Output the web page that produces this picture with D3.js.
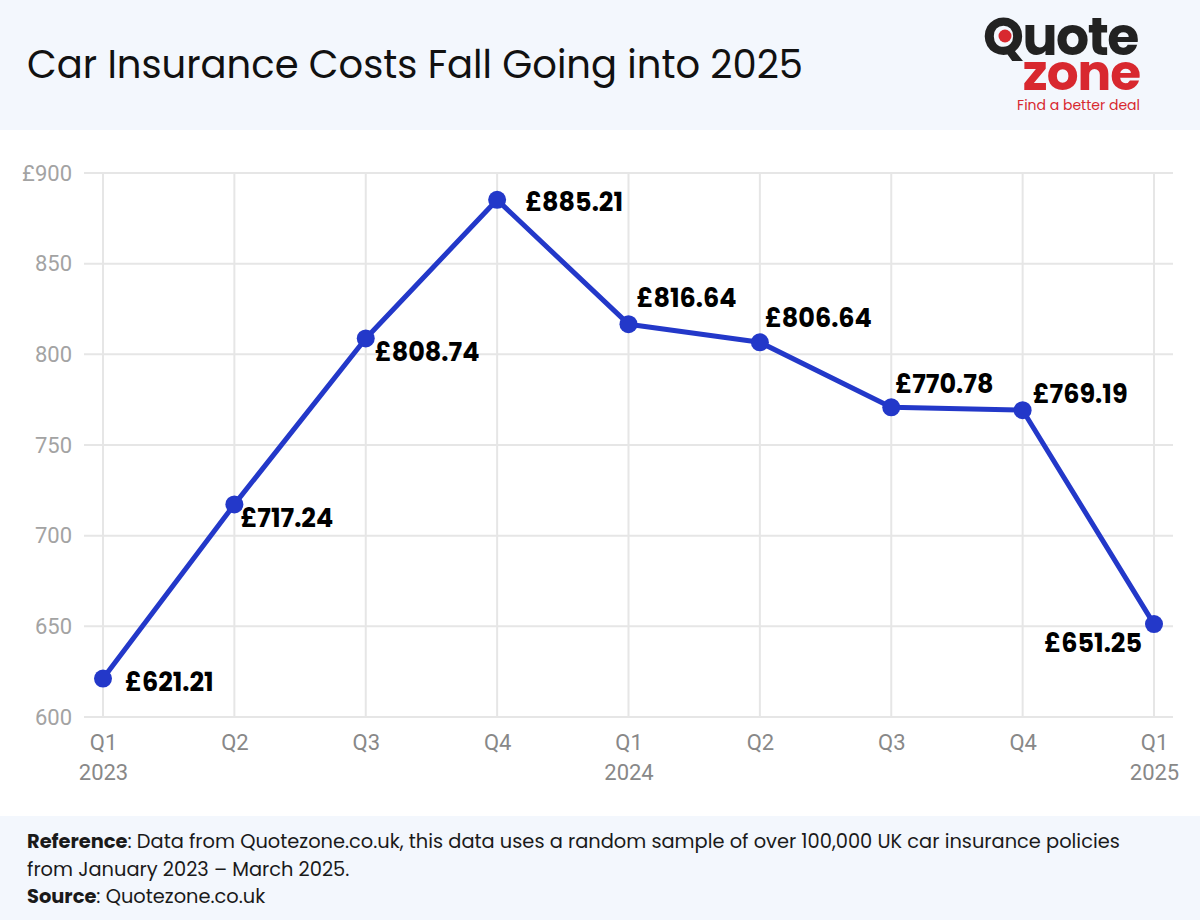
<!DOCTYPE html>
<html>
<head>
<meta charset="utf-8">
<script src="https://cdn.jsdelivr.net/npm/d3@7"></script>
<style>
  body { margin: 0; background: #fff; }
  svg { display: block; }
</style>
</head>
<body>
<svg id="chart" width="1200" height="920"></svg>
<script>
// quarterly average premium
var quarters = ["Q1", "Q2", "Q3", "Q4", "Q1", "Q2", "Q3", "Q4", "Q1"];
var years = ["2023", "", "", "", "2024", "", "", "", "2025"];
var costs = [621.21, 717.24, 808.74, 885.21, 816.64, 806.64, 770.78, 769.19, 651.25];
var yTicks = [600, 650, 700, 750, 800, 850, 900];

// label nudges from each point, picked by hand to dodge the line
var labelNudge = [[22, 12], [6, 23], [9, 23], [28, 11], [8, -17], [5, -15], [4, -14], [10, -7], [-12, 28]];

var svg = d3.select("#chart");
var W = 1200, H = 920;
var bg = "#f3f7fd";
var fontMain = "Poppins, 'Open Sans', sans-serif";
var fontAxis = "Roboto, sans-serif";

// header + footer bands
svg.append("rect").attr("width", W).attr("height", 130).attr("fill", bg);
svg.append("rect").attr("y", 816).attr("width", W).attr("height", H - 816).attr("fill", bg);

svg.append("text")
	.attr("x", 27).attr("y", 78)
	.attr("font-family", fontMain)
	.attr("font-size", 38.5)
	.attr("fill", "#111")
	.text("Car Insurance Costs Fall Going into 2025");

// logo
var logo = svg.append("g").attr("transform", "translate(983,0)");
logo.append("text")
	.attr("x", 0).attr("y", 55)
	.attr("font-family", fontMain)
	.attr("font-weight", 700)
	.attr("font-size", 52)
	.attr("letter-spacing", -1.5)
	.attr("fill", "#222")
	.text("Quote");
logo.append("circle").attr("cx", 22).attr("cy", 36).attr("r", 6.5).attr("fill", "#d8282f");
logo.append("text")
	.attr("x", 157).attr("y", 90)
	.attr("text-anchor", "end")
	.attr("font-family", fontMain)
	.attr("font-weight", 700)
	.attr("font-size", 50)
	.attr("letter-spacing", -1)
	.attr("fill", "#d8282f")
	.text("zone");
logo.append("text")
	.attr("x", 157).attr("y", 110)
	.attr("text-anchor", "end")
	.attr("font-family", fontMain)
	.attr("font-size", 14)
	.attr("fill", "#d8282f")
	.text("Find a better deal");

// plot
var x = d3.scaleLinear().domain([0, quarters.length - 1]).range([103, 1154]);
var y = d3.scaleLinear().domain([600, 900]).range([717, 173]);

var grid = svg.append("g").attr("stroke", "#e6e6e6").attr("stroke-width", 2);
grid.selectAll("line.h")
	.data(yTicks)
	.enter().append("line")
	.attr("x1", 84).attr("x2", 1173)
	.attr("y1", function(d) { return y(d); })
	.attr("y2", function(d) { return y(d); });
grid.selectAll("line.v")
	.data(quarters)
	.enter().append("line")
	.attr("x1", function(d, i) { return x(i); })
	.attr("x2", function(d, i) { return x(i); })
	.attr("y1", y(900)).attr("y2", y(600));

var yAxis = svg.append("g")
	.attr("transform", "translate(72,0)")
	.call(d3.axisLeft(y).tickValues(yTicks).tickSize(0).tickPadding(0)
		.tickFormat(function(d) { return d === 900 ? "£900" : d; }));
yAxis.select(".domain").remove();
yAxis.selectAll("text")
	.attr("font-family", fontAxis)
	.attr("font-size", 22)
	.attr("fill", "#a3a3a3");

var xAxis = svg.append("g")
	.attr("transform", "translate(0,734)")
	.call(d3.axisBottom(x).tickValues(d3.range(quarters.length)).tickSize(0).tickPadding(0)
		.tickFormat(function(i) { return quarters[i]; }));
xAxis.select(".domain").remove();
xAxis.selectAll("text")
	.attr("font-family", fontAxis)
	.attr("font-size", 22)
	.attr("fill", "#888")
	.attr("dy", "0.71em");
xAxis.selectAll(".tick")
	.append("text")
	.attr("y", 30).attr("dy", "0.71em")
	.attr("fill", "#888")
	.attr("font-family", fontAxis)
	.attr("font-size", 22)
	.text(function(i) { return years[i]; });

var line = d3.line()
	.x(function(d, i) { return x(i); })
	.y(function(d) { return y(d); });

svg.append("path")
	.datum(costs)
	.attr("fill", "none")
	.attr("stroke", "#2338c9")
	.attr("stroke-width", 5)
	.attr("stroke-linejoin", "round")
	.attr("d", line);

svg.selectAll("circle.pt")
	.data(costs)
	.enter().append("circle")
	.attr("class", "pt")
	.attr("cx", function(d, i) { return x(i); })
	.attr("cy", function(d) { return y(d); })
	.attr("r", 9)
	.attr("fill", "#2338c9");

svg.selectAll("text.val")
	.data(costs)
	.enter().append("text")
	.attr("class", "val")
	.attr("x", function(d, i) { return x(i) + labelNudge[i][0]; })
	.attr("y", function(d, i) { return y(d) + labelNudge[i][1]; })
	.attr("text-anchor", function(d, i) { return labelNudge[i][0] < 0 ? "end" : "start"; })
	.attr("font-family", fontMain)
	.attr("font-weight", 700)
	.attr("font-size", 25.5)
	.attr("fill", "#000")
	.text(function(d) { return "£" + d.toFixed(2); });

// footer notes
var notes = svg.append("g")
	.attr("font-family", fontMain)
	.attr("font-size", 19.4)
	.attr("fill", "#1a1a1a");
var n1 = notes.append("text").attr("x", 27).attr("y", 848);
n1.append("tspan").attr("font-weight", 700).text("Reference");
n1.append("tspan").text(": Data from Quotezone.co.uk, this data uses a random sample of over 100,000 UK car insurance policies");
notes.append("text").attr("x", 27).attr("y", 876).text("from January 2023 \u2013 March 2025.");
var n3 = notes.append("text").attr("x", 27).attr("y", 903);
n3.append("tspan").attr("font-weight", 700).text("Source");
n3.append("tspan").text(": Quotezone.co.uk");
</script>
</body>
</html>
